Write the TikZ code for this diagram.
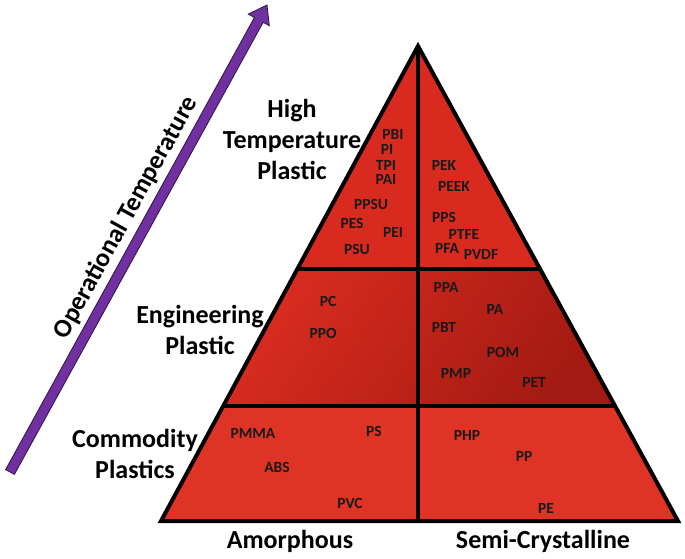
\documentclass[tikz,border=0pt]{standalone}
\usepackage{fontspec}
\setmainfont{Carlito}
\usetikzlibrary{calc}
\definecolor{topred}{HTML}{D82A1F}
\definecolor{midredA}{HTML}{DA2C20}
\definecolor{midredM}{HTML}{CD271C}
\definecolor{midredB}{HTML}{A31A12}
\definecolor{lowred}{HTML}{DF3325}
\definecolor{arrpurple}{HTML}{7030A0}
\definecolor{arredge}{HTML}{2E1445}
\tikzset{
  edge/.style={line width=4pt, line join=miter, black},
  poly/.style={font=\fontsize{15.5}{18}\selectfont\bfseries, inner sep=0pt, text=black!90},
  big/.style={font=\fontsize{26}{31}\selectfont\bfseries, align=center, inner sep=0pt},
}
\begin{document}
\begin{tikzpicture}[x=1pt,y=-1pt]
\useasboundingbox (0,0) rectangle (685,559);
% corner points
\coordinate (A) at (418,46);
\coordinate (BL) at (161,521);
\coordinate (BR) at (678,521);
\coordinate (L1) at (297.3,269);
\coordinate (R1) at (540.1,269);
\coordinate (L2) at (223.2,406);
\coordinate (R2) at (615,406);
\coordinate (M1) at (418,269);
\coordinate (M2) at (418,406);
\coordinate (MB) at (418,521);
% fills
\fill[topred] (A) -- (R1) -- (L1) -- cycle;
\shade[top color=midredA, middle color=midredM, bottom color=midredB, shading angle=55] (L1) -- (R1) -- (R2) -- (L2) -- cycle;
\fill[lowred] (L2) -- (R2) -- (BR) -- (BL) -- cycle;
% outlines
\draw[edge] (A) -- (BR) -- (BL) -- cycle;
\draw[edge] (L1) -- (R1);
\draw[edge] (L2) -- (R2);
\draw[edge] (A) -- (MB);
% arrow
\coordinate (aS) at (10,472);
\coordinate (aE) at (267,5);
\coordinate (aB) at ($(aE)!17pt!(aS)$);
\filldraw[fill=arrpurple, draw=arredge, line width=0.8pt, line join=miter]
  ($(aS)!5pt!90:(aE)$) -- ($(aB)!5pt!-90:(aS)$) -- ($(aB)!12pt!-90:(aS)$) -- (aE)
  -- ($(aB)!12pt!90:(aS)$) -- ($(aB)!5pt!90:(aS)$) -- ($(aS)!5pt!-90:(aE)$) -- cycle;
\node[font=\fontsize{26}{31}\selectfont\bfseries, rotate=61.2, inner sep=0pt] (optemp) at (126,217.5) {Operational Temperature};
% big labels
\node[big] (hightemp) at (292,139.5) {High\\Temperature\\Plastic};
\node[big] (eng) at (200,330) {Engineering\\Plastic};
\node[big] (comm) at (135,454) {Commodity\\Plastics};
\node[big, anchor=base] (amor) at (290,548) {Amorphous};
\node[big, anchor=base] (semi) at (543,548) {Semi-Crystalline};
% high temperature amorphous
\node[poly] (pbi) at (393,134) {PBI};
\node[poly] (pi) at (387,149) {PI};
\node[poly] (tpi) at (386,165) {TPI};
\node[poly] (pai) at (386,179) {PAI};
\node[poly] (ppsu) at (371,204) {PPSU};
\node[poly] (pes) at (352,223) {PES};
\node[poly] (pei) at (393,232) {PEI};
\node[poly] (psu) at (357,249) {PSU};
% high temperature semi-crystalline
\node[poly] (pek) at (444,165) {PEK};
\node[poly] (peek) at (454,186) {PEEK};
\node[poly] (pps) at (444,217) {PPS};
\node[poly] (ptfe) at (464,234) {PTFE};
\node[poly] (pfa) at (447,248) {PFA};
\node[poly] (pvdf) at (481,254) {PVDF};
% engineering
\node[poly] (pc) at (328,301) {PC};
\node[poly] (ppo) at (323,333) {PPO};
\node[poly] (ppa) at (446,287) {PPA};
\node[poly] (pa) at (495,309) {PA};
\node[poly] (pbt) at (444,327) {PBT};
\node[poly] (pom) at (503,352) {POM};
\node[poly] (pmp) at (456,373) {PMP};
\node[poly] (pet) at (534,382) {PET};
% commodity
\node[poly] (pmma) at (253,433) {PMMA};
\node[poly] (ps) at (374,431) {PS};
\node[poly] (abs) at (277,467) {ABS};
\node[poly] (pvc) at (350,503) {PVC};
\node[poly] (php) at (467,435) {PHP};
\node[poly] (pp) at (524,456) {PP};
\node[poly] (pe) at (546,508) {PE};
\end{tikzpicture}
\end{document}
